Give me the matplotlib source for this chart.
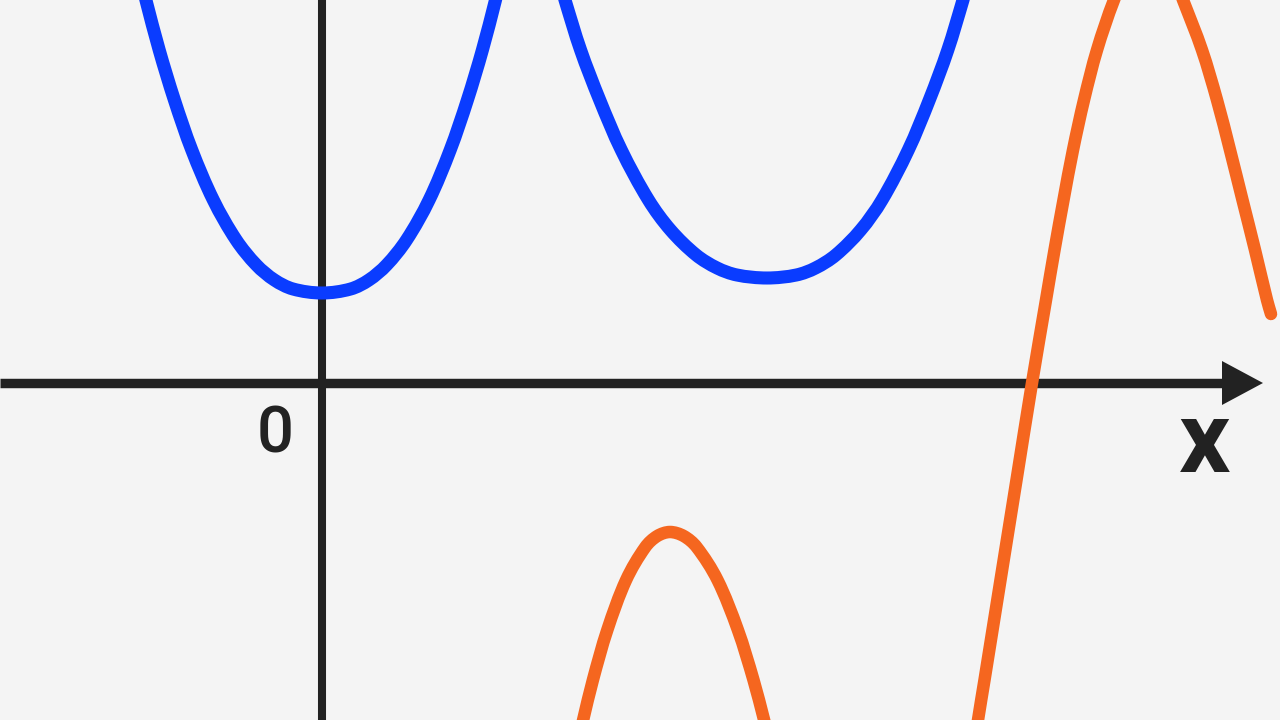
""" Two curves sketched over a bare pair of axes """

import matplotlib
matplotlib.use('Agg')
import matplotlib.pyplot as plt
from matplotlib.path import Path
from matplotlib.patches import PathPatch
import numpy as np

# Curves, x/y in axis units (1 unit = 100 px)
blue_left_x = [-1.780, -1.761, -1.628, -1.476, -1.302, -1.087, -0.858, -0.656,
               -0.476, -0.290, 0.000, 0.286, 0.469, 0.646, 0.845, 1.071,
               1.282, 1.454, 1.604, 1.735, 1.753]
blue_left_y = [3.91, 3.83, 3.33, 2.83, 2.33, 1.83, 1.43, 1.18,
               1.03, 0.94, 0.90, 0.94, 1.03, 1.18, 1.43, 1.83,
               2.33, 2.83, 3.33, 3.83, 3.91]

blue_right_x = [2.410, 2.430, 2.586, 2.777, 2.993, 3.265, 3.485, 3.742, 3.951,
                4.149, 4.450, 4.743, 4.935, 5.138, 5.387, 5.600, 5.863, 6.073,
                6.258, 6.410, 6.430]
blue_right_y = [3.91, 3.83, 3.33, 2.83, 2.33, 1.83, 1.53, 1.28, 1.15,
                1.08, 1.05, 1.08, 1.15, 1.28, 1.53, 1.83, 2.33, 2.83,
                3.33, 3.83, 3.91]

orange_hump_x = [2.593, 2.611, 2.709, 2.853, 3.041, 3.234, 3.353, 3.480,
                 3.617, 3.746, 3.955, 4.159, 4.315, 4.421, 4.441]
orange_hump_y = [-3.45, -3.37, -2.97, -2.47, -1.97, -1.64, -1.53, -1.49,
                 -1.53, -1.64, -1.97, -2.47, -2.97, -3.37, -3.45]

orange_rise_x = [6.54, 6.56, 6.625, 6.785, 6.945, 7.10, 7.24, 7.325, 7.415,
                 7.51, 7.62, 7.75, 7.92, 8.04, 8.28, 8.51, 8.61, 8.80, 8.95,
                 9.08, 9.205, 9.33, 9.45, 9.49]
orange_rise_y = [-3.52, -3.37, -2.97, -1.97, -0.97, 0.00, 0.83, 1.33, 1.83,
                 2.33, 2.83, 3.33, 3.83, 4.08, 4.29, 4.08, 3.83, 3.33, 2.83,
                 2.33, 1.83, 1.33, 0.83, 0.69]

origin_label = '0'
axis_label = 'x'

BG = '#f4f4f4'
INK = '#222222'
BLUE = '#0a3cff'
ORANGE = '#f5661f'


def smooth_path(xs, ys):
    """ Chord-length Catmull-Rom curve through the read points (Bezier) """
    p = np.column_stack([xs, ys]).astype(float)
    n = len(p)
    t = np.concatenate([[0], np.cumsum(np.hypot(*np.diff(p, axis=0).T))])
    m = np.zeros_like(p)
    m[0] = (p[1] - p[0]) / (t[1] - t[0])
    m[-1] = (p[-1] - p[-2]) / (t[-1] - t[-2])
    for i in range(1, n - 1):
        m[i] = (p[i + 1] - p[i - 1]) / (t[i + 1] - t[i - 1])

    verts = [tuple(p[0])]
    codes = [Path.MOVETO]
    for i in range(n - 1):
        h = t[i + 1] - t[i]
        verts += [tuple(p[i] + m[i] * h / 3), tuple(p[i + 1] - m[i + 1] * h / 3),
                  tuple(p[i + 1])]
        codes += [Path.CURVE4] * 3
    return Path(verts, codes)


def draw_curve(ax, xs, ys, color, lw):
    patch = PathPatch(smooth_path(xs, ys), facecolor='none', edgecolor=color,
                      lw=lw, capstyle='round', joinstyle='round', zorder=3)
    ax.add_patch(patch)


def draw_axes(ax, x0, x1, y0, y1):
    """ Horizontal axis with arrow head, plain vertical axis """
    arrow_base = 9.00
    ax.plot([x0, arrow_base + 0.02], [0, 0], color=INK, lw=6.8,
            solid_capstyle='butt', zorder=1)
    ax.fill([arrow_base, 9.41, arrow_base], [0.22, 0.0, -0.22],
            color=INK, lw=0, zorder=1)
    ax.plot([0, 0], [y0, y1], color=INK, lw=5.8,
            solid_capstyle='butt', zorder=1)


def main():
    fig = plt.figure(figsize=(12.8, 7.2), dpi=100, facecolor=BG)
    ax = fig.add_axes([0, 0, 1, 1])
    ax.set_facecolor(BG)

    xmin, xmax = -3.22, 9.58
    ymin, ymax = -3.37, 3.83

    draw_axes(ax, xmin, xmax, ymin, ymax)

    draw_curve(ax, blue_left_x, blue_left_y, BLUE, 9.4)
    draw_curve(ax, blue_right_x, blue_right_y, BLUE, 9.4)
    draw_curve(ax, orange_hump_x, orange_hump_y, ORANGE, 9.0)
    draw_curve(ax, orange_rise_x, orange_rise_y, ORANGE, 9.0)

    ax.text(-0.47, -0.70, origin_label, ha='center', va='baseline',
            fontsize=47, fontweight='medium', family=['Roboto', 'DejaVu Sans'],
            color=INK)
    ax.text(8.825, -0.89, axis_label, ha='center', va='baseline',
            fontsize=73, fontweight='bold', family=['Roboto', 'DejaVu Sans'],
            color=INK)

    ax.set_xlim(xmin, xmax)
    ax.set_ylim(ymin, ymax)
    ax.axis('off')

    fig.savefig('out.png', dpi=100, facecolor=BG)


if __name__ == "__main__":
    main()
